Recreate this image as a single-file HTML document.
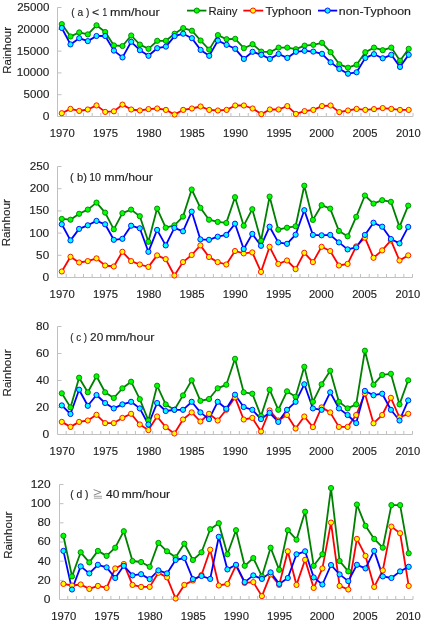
<!DOCTYPE html>
<html><head><meta charset="utf-8"><style>
html,body{margin:0;padding:0;background:#fff;width:423px;height:622px;overflow:hidden}
svg{display:block}
svg text{font-family:"Liberation Sans", sans-serif}
svg{will-change:transform}
</style></head><body>
<svg width="423" height="622" viewBox="0 0 423 622">
<rect width="423" height="622" fill="#fff"/>
<path d="M57.5 7.5 V116.5 H413.0" fill="none" stroke="#c0c0c0" stroke-width="1"/>
<path d="M57.5 94.70h4M57.5 72.90h4M57.5 51.10h4M57.5 29.30h4M57.5 7.50h4M66.17 116.5v-3.5M74.84 116.5v-3.5M83.51 116.5v-3.5M92.18 116.5v-3.5M100.85 116.5v-3.5M109.52 116.5v-3.5M118.20 116.5v-3.5M126.87 116.5v-3.5M135.54 116.5v-3.5M144.21 116.5v-3.5M152.88 116.5v-3.5M161.55 116.5v-3.5M170.22 116.5v-3.5M178.89 116.5v-3.5M187.56 116.5v-3.5M196.23 116.5v-3.5M204.90 116.5v-3.5M213.57 116.5v-3.5M222.24 116.5v-3.5M230.91 116.5v-3.5M239.59 116.5v-3.5M248.26 116.5v-3.5M256.93 116.5v-3.5M265.60 116.5v-3.5M274.27 116.5v-3.5M282.94 116.5v-3.5M291.61 116.5v-3.5M300.28 116.5v-3.5M308.95 116.5v-3.5M317.62 116.5v-3.5M326.29 116.5v-3.5M334.96 116.5v-3.5M343.63 116.5v-3.5M352.30 116.5v-3.5M360.98 116.5v-3.5M369.65 116.5v-3.5M378.32 116.5v-3.5M386.99 116.5v-3.5M395.66 116.5v-3.5M404.33 116.5v-3.5M413.00 116.5v-3.5" fill="none" stroke="#c0c0c0" stroke-width="1"/>
<path d="M61.8 24.1L70.5 36.5L79.2 32.4L87.8 34.4L96.5 25.3L105.2 32.0L113.9 45.4L122.5 46.0L131.2 35.5L139.9 44.6L148.5 48.8L157.2 40.8L165.9 40.8L174.6 33.7L183.2 28.1L191.9 30.7L200.6 40.5L209.2 49.6L217.9 35.1L226.6 39.2L235.2 38.8L243.9 48.2L252.6 44.2L261.3 51.6L269.9 52.2L278.6 47.6L287.3 47.6L295.9 49.2L304.6 45.6L313.3 44.8L322.0 42.8L330.6 52.2L339.3 64.3L348.0 67.7L356.6 64.7L365.3 52.2L374.0 47.6L382.7 50.2L391.3 47.6L400.0 60.7L408.7 48.8" fill="none" stroke="#008000" stroke-width="1.8" stroke-linejoin="round"/>
<path d="M61.8 113.2L70.5 108.9L79.2 110.9L87.8 109.5L96.5 105.4L105.2 111.9L113.9 111.3L122.5 104.6L131.2 109.5L139.9 110.5L148.5 109.1L157.2 108.5L165.9 109.9L174.6 114.5L183.2 109.9L191.9 108.5L200.6 106.5L209.2 109.9L217.9 110.5L226.6 109.9L235.2 105.5L243.9 105.5L252.6 108.5L261.3 114.1L269.9 109.5L278.6 109.5L287.3 106.1L295.9 113.9L304.6 111.1L313.3 109.9L322.0 106.1L330.6 105.5L339.3 112.1L348.0 110.5L356.6 108.9L365.3 109.9L374.0 109.1L382.7 108.1L391.3 108.9L400.0 109.9L408.7 109.9" fill="none" stroke="#ff0000" stroke-width="1.8" stroke-linejoin="round"/>
<path d="M61.8 28.0L70.5 44.4L79.2 38.2L87.8 41.1L96.5 36.0L105.2 36.0L113.9 50.6L122.5 57.4L131.2 41.8L139.9 50.2L148.5 55.8L157.2 48.2L165.9 46.6L174.6 36.1L183.2 33.7L191.9 38.2L200.6 49.9L209.2 55.8L217.9 40.6L226.6 44.8L235.2 48.8L243.9 58.9L252.6 51.8L261.3 54.8L269.9 58.9L278.6 54.0L287.3 57.9L295.9 51.8L304.6 50.8L313.3 51.6L322.0 53.8L330.6 62.3L339.3 68.9L348.0 73.7L356.6 72.3L365.3 57.9L374.0 54.2L382.7 58.3L391.3 54.8L400.0 66.9L408.7 54.8" fill="none" stroke="#0000ff" stroke-width="1.8" stroke-linejoin="round"/>
<g fill="#00ff00" stroke="#008000" stroke-width="0.9"><circle cx="61.8" cy="24.1" r="2.6"/><circle cx="70.5" cy="36.5" r="2.6"/><circle cx="79.2" cy="32.4" r="2.6"/><circle cx="87.8" cy="34.4" r="2.6"/><circle cx="96.5" cy="25.3" r="2.6"/><circle cx="105.2" cy="32.0" r="2.6"/><circle cx="113.9" cy="45.4" r="2.6"/><circle cx="122.5" cy="46.0" r="2.6"/><circle cx="131.2" cy="35.5" r="2.6"/><circle cx="139.9" cy="44.6" r="2.6"/><circle cx="148.5" cy="48.8" r="2.6"/><circle cx="157.2" cy="40.8" r="2.6"/><circle cx="165.9" cy="40.8" r="2.6"/><circle cx="174.6" cy="33.7" r="2.6"/><circle cx="183.2" cy="28.1" r="2.6"/><circle cx="191.9" cy="30.7" r="2.6"/><circle cx="200.6" cy="40.5" r="2.6"/><circle cx="209.2" cy="49.6" r="2.6"/><circle cx="217.9" cy="35.1" r="2.6"/><circle cx="226.6" cy="39.2" r="2.6"/><circle cx="235.2" cy="38.8" r="2.6"/><circle cx="243.9" cy="48.2" r="2.6"/><circle cx="252.6" cy="44.2" r="2.6"/><circle cx="261.3" cy="51.6" r="2.6"/><circle cx="269.9" cy="52.2" r="2.6"/><circle cx="278.6" cy="47.6" r="2.6"/><circle cx="287.3" cy="47.6" r="2.6"/><circle cx="295.9" cy="49.2" r="2.6"/><circle cx="304.6" cy="45.6" r="2.6"/><circle cx="313.3" cy="44.8" r="2.6"/><circle cx="322.0" cy="42.8" r="2.6"/><circle cx="330.6" cy="52.2" r="2.6"/><circle cx="339.3" cy="64.3" r="2.6"/><circle cx="348.0" cy="67.7" r="2.6"/><circle cx="356.6" cy="64.7" r="2.6"/><circle cx="365.3" cy="52.2" r="2.6"/><circle cx="374.0" cy="47.6" r="2.6"/><circle cx="382.7" cy="50.2" r="2.6"/><circle cx="391.3" cy="47.6" r="2.6"/><circle cx="400.0" cy="60.7" r="2.6"/><circle cx="408.7" cy="48.8" r="2.6"/></g>
<g fill="#ffff00" stroke="#ff0000" stroke-width="0.9"><circle cx="61.8" cy="113.2" r="2.6"/><circle cx="70.5" cy="108.9" r="2.6"/><circle cx="79.2" cy="110.9" r="2.6"/><circle cx="87.8" cy="109.5" r="2.6"/><circle cx="96.5" cy="105.4" r="2.6"/><circle cx="105.2" cy="111.9" r="2.6"/><circle cx="113.9" cy="111.3" r="2.6"/><circle cx="122.5" cy="104.6" r="2.6"/><circle cx="131.2" cy="109.5" r="2.6"/><circle cx="139.9" cy="110.5" r="2.6"/><circle cx="148.5" cy="109.1" r="2.6"/><circle cx="157.2" cy="108.5" r="2.6"/><circle cx="165.9" cy="109.9" r="2.6"/><circle cx="174.6" cy="114.5" r="2.6"/><circle cx="183.2" cy="109.9" r="2.6"/><circle cx="191.9" cy="108.5" r="2.6"/><circle cx="200.6" cy="106.5" r="2.6"/><circle cx="209.2" cy="109.9" r="2.6"/><circle cx="217.9" cy="110.5" r="2.6"/><circle cx="226.6" cy="109.9" r="2.6"/><circle cx="235.2" cy="105.5" r="2.6"/><circle cx="243.9" cy="105.5" r="2.6"/><circle cx="252.6" cy="108.5" r="2.6"/><circle cx="261.3" cy="114.1" r="2.6"/><circle cx="269.9" cy="109.5" r="2.6"/><circle cx="278.6" cy="109.5" r="2.6"/><circle cx="287.3" cy="106.1" r="2.6"/><circle cx="295.9" cy="113.9" r="2.6"/><circle cx="304.6" cy="111.1" r="2.6"/><circle cx="313.3" cy="109.9" r="2.6"/><circle cx="322.0" cy="106.1" r="2.6"/><circle cx="330.6" cy="105.5" r="2.6"/><circle cx="339.3" cy="112.1" r="2.6"/><circle cx="348.0" cy="110.5" r="2.6"/><circle cx="356.6" cy="108.9" r="2.6"/><circle cx="365.3" cy="109.9" r="2.6"/><circle cx="374.0" cy="109.1" r="2.6"/><circle cx="382.7" cy="108.1" r="2.6"/><circle cx="391.3" cy="108.9" r="2.6"/><circle cx="400.0" cy="109.9" r="2.6"/><circle cx="408.7" cy="109.9" r="2.6"/></g>
<g fill="#00ffff" stroke="#0000ff" stroke-width="0.9"><circle cx="61.8" cy="28.0" r="2.6"/><circle cx="70.5" cy="44.4" r="2.6"/><circle cx="79.2" cy="38.2" r="2.6"/><circle cx="87.8" cy="41.1" r="2.6"/><circle cx="96.5" cy="36.0" r="2.6"/><circle cx="105.2" cy="36.0" r="2.6"/><circle cx="113.9" cy="50.6" r="2.6"/><circle cx="122.5" cy="57.4" r="2.6"/><circle cx="131.2" cy="41.8" r="2.6"/><circle cx="139.9" cy="50.2" r="2.6"/><circle cx="148.5" cy="55.8" r="2.6"/><circle cx="157.2" cy="48.2" r="2.6"/><circle cx="165.9" cy="46.6" r="2.6"/><circle cx="174.6" cy="36.1" r="2.6"/><circle cx="183.2" cy="33.7" r="2.6"/><circle cx="191.9" cy="38.2" r="2.6"/><circle cx="200.6" cy="49.9" r="2.6"/><circle cx="209.2" cy="55.8" r="2.6"/><circle cx="217.9" cy="40.6" r="2.6"/><circle cx="226.6" cy="44.8" r="2.6"/><circle cx="235.2" cy="48.8" r="2.6"/><circle cx="243.9" cy="58.9" r="2.6"/><circle cx="252.6" cy="51.8" r="2.6"/><circle cx="261.3" cy="54.8" r="2.6"/><circle cx="269.9" cy="58.9" r="2.6"/><circle cx="278.6" cy="54.0" r="2.6"/><circle cx="287.3" cy="57.9" r="2.6"/><circle cx="295.9" cy="51.8" r="2.6"/><circle cx="304.6" cy="50.8" r="2.6"/><circle cx="313.3" cy="51.6" r="2.6"/><circle cx="322.0" cy="53.8" r="2.6"/><circle cx="330.6" cy="62.3" r="2.6"/><circle cx="339.3" cy="68.9" r="2.6"/><circle cx="348.0" cy="73.7" r="2.6"/><circle cx="356.6" cy="72.3" r="2.6"/><circle cx="365.3" cy="57.9" r="2.6"/><circle cx="374.0" cy="54.2" r="2.6"/><circle cx="382.7" cy="58.3" r="2.6"/><circle cx="391.3" cy="54.8" r="2.6"/><circle cx="400.0" cy="66.9" r="2.6"/><circle cx="408.7" cy="54.8" r="2.6"/></g>
<path d="M187 10.6H206.4" stroke="#008000" stroke-width="1.8"/>
<circle cx="196.8" cy="10.6" r="2.6" fill="#00ff00" stroke="#008000" stroke-width="0.9"/>
<path d="M243.3 10.6H263.2" stroke="#ff0000" stroke-width="1.8"/>
<circle cx="253.0" cy="10.6" r="2.6" fill="#ffff00" stroke="#ff0000" stroke-width="0.9"/>
<path d="M318 10.6H337.2" stroke="#0000ff" stroke-width="1.8"/>
<circle cx="327.6" cy="10.6" r="2.6" fill="#00ffff" stroke="#0000ff" stroke-width="0.9"/>
<path d="M57.5 166.5 V277.5 H412.5" fill="none" stroke="#c0c0c0" stroke-width="1"/>
<path d="M57.5 255.30h4M57.5 233.10h4M57.5 210.90h4M57.5 188.70h4M57.5 166.50h4M66.16 277.5v-3.5M74.82 277.5v-3.5M83.48 277.5v-3.5M92.13 277.5v-3.5M100.79 277.5v-3.5M109.45 277.5v-3.5M118.11 277.5v-3.5M126.77 277.5v-3.5M135.43 277.5v-3.5M144.09 277.5v-3.5M152.74 277.5v-3.5M161.40 277.5v-3.5M170.06 277.5v-3.5M178.72 277.5v-3.5M187.38 277.5v-3.5M196.04 277.5v-3.5M204.70 277.5v-3.5M213.35 277.5v-3.5M222.01 277.5v-3.5M230.67 277.5v-3.5M239.33 277.5v-3.5M247.99 277.5v-3.5M256.65 277.5v-3.5M265.30 277.5v-3.5M273.96 277.5v-3.5M282.62 277.5v-3.5M291.28 277.5v-3.5M299.94 277.5v-3.5M308.60 277.5v-3.5M317.26 277.5v-3.5M325.91 277.5v-3.5M334.57 277.5v-3.5M343.23 277.5v-3.5M351.89 277.5v-3.5M360.55 277.5v-3.5M369.21 277.5v-3.5M377.87 277.5v-3.5M386.52 277.5v-3.5M395.18 277.5v-3.5M403.84 277.5v-3.5M412.50 277.5v-3.5" fill="none" stroke="#c0c0c0" stroke-width="1"/>
<path d="M61.8 218.9L70.5 219.7L79.1 213.8L87.8 209.6L96.5 202.6L105.1 212.6L113.8 229.3L122.4 213.2L131.1 209.6L139.8 216.2L148.4 241.8L157.1 208.6L165.7 227.7L174.4 225.3L183.0 216.6L191.7 189.5L200.4 207.8L209.0 219.7L217.7 221.9L226.3 222.9L235.0 197.2L243.7 225.7L252.3 209.2L261.0 240.8L269.6 196.6L278.3 229.7L287.0 227.7L295.6 226.3L304.3 185.7L312.9 219.9L321.6 205.2L330.2 208.6L338.9 230.9L347.6 236.3L356.2 216.8L364.9 195.5L373.5 203.6L382.2 200.2L390.9 201.8L399.5 226.9L408.2 205.6" fill="none" stroke="#008000" stroke-width="1.8" stroke-linejoin="round"/>
<path d="M61.8 271.5L70.5 256.8L79.1 262.5L87.8 261.1L96.5 258.4L105.1 265.5L113.8 266.5L122.4 251.8L131.1 261.1L139.8 264.5L148.4 266.9L157.1 255.4L165.7 259.1L174.4 275.5L183.0 262.1L191.7 255.0L200.4 245.4L209.0 257.0L217.7 262.1L226.3 264.5L235.0 251.0L243.7 253.4L252.3 252.4L261.0 271.9L269.6 246.8L278.3 263.9L287.0 260.5L295.6 269.1L304.3 252.8L312.9 262.1L321.6 246.8L330.2 251.0L338.9 265.5L347.6 263.9L356.2 246.4L364.9 237.7L373.5 257.8L382.2 250.4L390.9 240.4L399.5 260.5L408.2 255.4" fill="none" stroke="#ff0000" stroke-width="1.8" stroke-linejoin="round"/>
<path d="M61.8 224.3L70.5 240.4L79.1 228.9L87.8 225.3L96.5 220.9L105.1 224.3L113.8 239.8L122.4 238.8L131.1 225.7L139.8 228.3L148.4 251.8L157.1 229.9L165.7 245.4L174.4 227.9L183.0 231.3L191.7 211.6L200.4 239.4L209.0 239.8L217.7 236.7L226.3 234.9L235.0 223.7L243.7 249.0L252.3 233.9L261.0 245.8L269.6 226.7L278.3 242.4L287.0 243.8L295.6 234.7L304.3 210.2L312.9 234.9L321.6 235.3L330.2 234.9L338.9 242.4L347.6 249.4L356.2 247.4L364.9 234.9L373.5 222.7L382.2 226.7L390.9 239.0L399.5 243.4L408.2 226.9" fill="none" stroke="#0000ff" stroke-width="1.8" stroke-linejoin="round"/>
<g fill="#00ff00" stroke="#008000" stroke-width="0.9"><circle cx="61.8" cy="218.9" r="2.6"/><circle cx="70.5" cy="219.7" r="2.6"/><circle cx="79.1" cy="213.8" r="2.6"/><circle cx="87.8" cy="209.6" r="2.6"/><circle cx="96.5" cy="202.6" r="2.6"/><circle cx="105.1" cy="212.6" r="2.6"/><circle cx="113.8" cy="229.3" r="2.6"/><circle cx="122.4" cy="213.2" r="2.6"/><circle cx="131.1" cy="209.6" r="2.6"/><circle cx="139.8" cy="216.2" r="2.6"/><circle cx="148.4" cy="241.8" r="2.6"/><circle cx="157.1" cy="208.6" r="2.6"/><circle cx="165.7" cy="227.7" r="2.6"/><circle cx="174.4" cy="225.3" r="2.6"/><circle cx="183.0" cy="216.6" r="2.6"/><circle cx="191.7" cy="189.5" r="2.6"/><circle cx="200.4" cy="207.8" r="2.6"/><circle cx="209.0" cy="219.7" r="2.6"/><circle cx="217.7" cy="221.9" r="2.6"/><circle cx="226.3" cy="222.9" r="2.6"/><circle cx="235.0" cy="197.2" r="2.6"/><circle cx="243.7" cy="225.7" r="2.6"/><circle cx="252.3" cy="209.2" r="2.6"/><circle cx="261.0" cy="240.8" r="2.6"/><circle cx="269.6" cy="196.6" r="2.6"/><circle cx="278.3" cy="229.7" r="2.6"/><circle cx="287.0" cy="227.7" r="2.6"/><circle cx="295.6" cy="226.3" r="2.6"/><circle cx="304.3" cy="185.7" r="2.6"/><circle cx="312.9" cy="219.9" r="2.6"/><circle cx="321.6" cy="205.2" r="2.6"/><circle cx="330.2" cy="208.6" r="2.6"/><circle cx="338.9" cy="230.9" r="2.6"/><circle cx="347.6" cy="236.3" r="2.6"/><circle cx="356.2" cy="216.8" r="2.6"/><circle cx="364.9" cy="195.5" r="2.6"/><circle cx="373.5" cy="203.6" r="2.6"/><circle cx="382.2" cy="200.2" r="2.6"/><circle cx="390.9" cy="201.8" r="2.6"/><circle cx="399.5" cy="226.9" r="2.6"/><circle cx="408.2" cy="205.6" r="2.6"/></g>
<g fill="#ffff00" stroke="#ff0000" stroke-width="0.9"><circle cx="61.8" cy="271.5" r="2.6"/><circle cx="70.5" cy="256.8" r="2.6"/><circle cx="79.1" cy="262.5" r="2.6"/><circle cx="87.8" cy="261.1" r="2.6"/><circle cx="96.5" cy="258.4" r="2.6"/><circle cx="105.1" cy="265.5" r="2.6"/><circle cx="113.8" cy="266.5" r="2.6"/><circle cx="122.4" cy="251.8" r="2.6"/><circle cx="131.1" cy="261.1" r="2.6"/><circle cx="139.8" cy="264.5" r="2.6"/><circle cx="148.4" cy="266.9" r="2.6"/><circle cx="157.1" cy="255.4" r="2.6"/><circle cx="165.7" cy="259.1" r="2.6"/><circle cx="174.4" cy="275.5" r="2.6"/><circle cx="183.0" cy="262.1" r="2.6"/><circle cx="191.7" cy="255.0" r="2.6"/><circle cx="200.4" cy="245.4" r="2.6"/><circle cx="209.0" cy="257.0" r="2.6"/><circle cx="217.7" cy="262.1" r="2.6"/><circle cx="226.3" cy="264.5" r="2.6"/><circle cx="235.0" cy="251.0" r="2.6"/><circle cx="243.7" cy="253.4" r="2.6"/><circle cx="252.3" cy="252.4" r="2.6"/><circle cx="261.0" cy="271.9" r="2.6"/><circle cx="269.6" cy="246.8" r="2.6"/><circle cx="278.3" cy="263.9" r="2.6"/><circle cx="287.0" cy="260.5" r="2.6"/><circle cx="295.6" cy="269.1" r="2.6"/><circle cx="304.3" cy="252.8" r="2.6"/><circle cx="312.9" cy="262.1" r="2.6"/><circle cx="321.6" cy="246.8" r="2.6"/><circle cx="330.2" cy="251.0" r="2.6"/><circle cx="338.9" cy="265.5" r="2.6"/><circle cx="347.6" cy="263.9" r="2.6"/><circle cx="356.2" cy="246.4" r="2.6"/><circle cx="364.9" cy="237.7" r="2.6"/><circle cx="373.5" cy="257.8" r="2.6"/><circle cx="382.2" cy="250.4" r="2.6"/><circle cx="390.9" cy="240.4" r="2.6"/><circle cx="399.5" cy="260.5" r="2.6"/><circle cx="408.2" cy="255.4" r="2.6"/></g>
<g fill="#00ffff" stroke="#0000ff" stroke-width="0.9"><circle cx="61.8" cy="224.3" r="2.6"/><circle cx="70.5" cy="240.4" r="2.6"/><circle cx="79.1" cy="228.9" r="2.6"/><circle cx="87.8" cy="225.3" r="2.6"/><circle cx="96.5" cy="220.9" r="2.6"/><circle cx="105.1" cy="224.3" r="2.6"/><circle cx="113.8" cy="239.8" r="2.6"/><circle cx="122.4" cy="238.8" r="2.6"/><circle cx="131.1" cy="225.7" r="2.6"/><circle cx="139.8" cy="228.3" r="2.6"/><circle cx="148.4" cy="251.8" r="2.6"/><circle cx="157.1" cy="229.9" r="2.6"/><circle cx="165.7" cy="245.4" r="2.6"/><circle cx="174.4" cy="227.9" r="2.6"/><circle cx="183.0" cy="231.3" r="2.6"/><circle cx="191.7" cy="211.6" r="2.6"/><circle cx="200.4" cy="239.4" r="2.6"/><circle cx="209.0" cy="239.8" r="2.6"/><circle cx="217.7" cy="236.7" r="2.6"/><circle cx="226.3" cy="234.9" r="2.6"/><circle cx="235.0" cy="223.7" r="2.6"/><circle cx="243.7" cy="249.0" r="2.6"/><circle cx="252.3" cy="233.9" r="2.6"/><circle cx="261.0" cy="245.8" r="2.6"/><circle cx="269.6" cy="226.7" r="2.6"/><circle cx="278.3" cy="242.4" r="2.6"/><circle cx="287.0" cy="243.8" r="2.6"/><circle cx="295.6" cy="234.7" r="2.6"/><circle cx="304.3" cy="210.2" r="2.6"/><circle cx="312.9" cy="234.9" r="2.6"/><circle cx="321.6" cy="235.3" r="2.6"/><circle cx="330.2" cy="234.9" r="2.6"/><circle cx="338.9" cy="242.4" r="2.6"/><circle cx="347.6" cy="249.4" r="2.6"/><circle cx="356.2" cy="247.4" r="2.6"/><circle cx="364.9" cy="234.9" r="2.6"/><circle cx="373.5" cy="222.7" r="2.6"/><circle cx="382.2" cy="226.7" r="2.6"/><circle cx="390.9" cy="239.0" r="2.6"/><circle cx="399.5" cy="243.4" r="2.6"/><circle cx="408.2" cy="226.9" r="2.6"/></g>
<path d="M57.5 326.5 V434.5 H412.5" fill="none" stroke="#c0c0c0" stroke-width="1"/>
<path d="M57.5 407.50h4M57.5 380.50h4M57.5 353.50h4M57.5 326.50h4M66.16 434.5v-3.5M74.82 434.5v-3.5M83.48 434.5v-3.5M92.13 434.5v-3.5M100.79 434.5v-3.5M109.45 434.5v-3.5M118.11 434.5v-3.5M126.77 434.5v-3.5M135.43 434.5v-3.5M144.09 434.5v-3.5M152.74 434.5v-3.5M161.40 434.5v-3.5M170.06 434.5v-3.5M178.72 434.5v-3.5M187.38 434.5v-3.5M196.04 434.5v-3.5M204.70 434.5v-3.5M213.35 434.5v-3.5M222.01 434.5v-3.5M230.67 434.5v-3.5M239.33 434.5v-3.5M247.99 434.5v-3.5M256.65 434.5v-3.5M265.30 434.5v-3.5M273.96 434.5v-3.5M282.62 434.5v-3.5M291.28 434.5v-3.5M299.94 434.5v-3.5M308.60 434.5v-3.5M317.26 434.5v-3.5M325.91 434.5v-3.5M334.57 434.5v-3.5M343.23 434.5v-3.5M351.89 434.5v-3.5M360.55 434.5v-3.5M369.21 434.5v-3.5M377.87 434.5v-3.5M386.52 434.5v-3.5M395.18 434.5v-3.5M403.84 434.5v-3.5M412.50 434.5v-3.5" fill="none" stroke="#c0c0c0" stroke-width="1"/>
<path d="M61.8 393.3L70.5 407.4L79.1 377.7L87.8 392.3L96.5 376.3L105.1 392.3L113.8 398.0L122.4 388.3L131.1 381.7L139.8 399.2L148.4 420.5L157.1 385.7L165.7 404.4L174.4 409.8L183.0 395.4L191.7 380.3L200.4 400.8L209.0 399.0L217.7 388.3L226.3 384.7L235.0 358.8L243.7 392.3L252.3 393.7L261.0 416.1L269.6 389.7L278.3 409.8L287.0 391.3L295.6 396.8L304.3 366.8L312.9 401.8L321.6 384.3L330.2 370.8L338.9 401.8L347.6 408.4L356.2 404.4L364.9 350.7L373.5 384.7L382.2 374.9L390.9 373.8L399.5 404.4L408.2 380.3" fill="none" stroke="#008000" stroke-width="1.8" stroke-linejoin="round"/>
<path d="M61.8 421.9L70.5 426.9L79.1 421.9L87.8 420.5L96.5 414.8L105.1 423.1L113.8 423.1L122.4 417.9L131.1 413.8L139.8 424.5L148.4 430.1L157.1 416.5L165.7 427.1L174.4 433.5L183.0 419.5L191.7 412.4L200.4 421.5L209.0 413.8L217.7 420.5L226.3 409.8L235.0 397.4L243.7 419.5L252.3 417.9L261.0 431.5L269.6 410.4L278.3 420.5L287.0 415.0L295.6 428.5L304.3 416.5L312.9 427.1L321.6 407.4L330.2 412.4L338.9 426.9L347.6 426.9L356.2 415.0L364.9 393.5L373.5 423.3L382.2 415.0L390.9 397.8L399.5 417.5L408.2 413.8" fill="none" stroke="#ff0000" stroke-width="1.8" stroke-linejoin="round"/>
<path d="M61.8 405.4L70.5 414.0L79.1 389.7L87.8 405.8L96.5 395.0L105.1 403.0L113.8 408.4L122.4 404.4L131.1 401.8L139.8 408.4L148.4 424.5L157.1 403.0L165.7 411.0L174.4 409.8L183.0 409.8L191.7 401.8L200.4 412.4L209.0 419.1L217.7 401.8L226.3 408.8L235.0 394.7L243.7 407.0L252.3 409.8L261.0 419.1L269.6 412.8L278.3 421.9L287.0 409.8L295.6 401.8L304.3 384.3L312.9 408.4L321.6 409.8L330.2 392.3L338.9 408.4L347.6 415.0L356.2 423.1L364.9 390.9L373.5 395.2L382.2 393.7L390.9 409.8L399.5 420.5L408.2 400.4" fill="none" stroke="#0000ff" stroke-width="1.8" stroke-linejoin="round"/>
<g fill="#00ff00" stroke="#008000" stroke-width="0.9"><circle cx="61.8" cy="393.3" r="2.6"/><circle cx="70.5" cy="407.4" r="2.6"/><circle cx="79.1" cy="377.7" r="2.6"/><circle cx="87.8" cy="392.3" r="2.6"/><circle cx="96.5" cy="376.3" r="2.6"/><circle cx="105.1" cy="392.3" r="2.6"/><circle cx="113.8" cy="398.0" r="2.6"/><circle cx="122.4" cy="388.3" r="2.6"/><circle cx="131.1" cy="381.7" r="2.6"/><circle cx="139.8" cy="399.2" r="2.6"/><circle cx="148.4" cy="420.5" r="2.6"/><circle cx="157.1" cy="385.7" r="2.6"/><circle cx="165.7" cy="404.4" r="2.6"/><circle cx="174.4" cy="409.8" r="2.6"/><circle cx="183.0" cy="395.4" r="2.6"/><circle cx="191.7" cy="380.3" r="2.6"/><circle cx="200.4" cy="400.8" r="2.6"/><circle cx="209.0" cy="399.0" r="2.6"/><circle cx="217.7" cy="388.3" r="2.6"/><circle cx="226.3" cy="384.7" r="2.6"/><circle cx="235.0" cy="358.8" r="2.6"/><circle cx="243.7" cy="392.3" r="2.6"/><circle cx="252.3" cy="393.7" r="2.6"/><circle cx="261.0" cy="416.1" r="2.6"/><circle cx="269.6" cy="389.7" r="2.6"/><circle cx="278.3" cy="409.8" r="2.6"/><circle cx="287.0" cy="391.3" r="2.6"/><circle cx="295.6" cy="396.8" r="2.6"/><circle cx="304.3" cy="366.8" r="2.6"/><circle cx="312.9" cy="401.8" r="2.6"/><circle cx="321.6" cy="384.3" r="2.6"/><circle cx="330.2" cy="370.8" r="2.6"/><circle cx="338.9" cy="401.8" r="2.6"/><circle cx="347.6" cy="408.4" r="2.6"/><circle cx="356.2" cy="404.4" r="2.6"/><circle cx="364.9" cy="350.7" r="2.6"/><circle cx="373.5" cy="384.7" r="2.6"/><circle cx="382.2" cy="374.9" r="2.6"/><circle cx="390.9" cy="373.8" r="2.6"/><circle cx="399.5" cy="404.4" r="2.6"/><circle cx="408.2" cy="380.3" r="2.6"/></g>
<g fill="#ffff00" stroke="#ff0000" stroke-width="0.9"><circle cx="61.8" cy="421.9" r="2.6"/><circle cx="70.5" cy="426.9" r="2.6"/><circle cx="79.1" cy="421.9" r="2.6"/><circle cx="87.8" cy="420.5" r="2.6"/><circle cx="96.5" cy="414.8" r="2.6"/><circle cx="105.1" cy="423.1" r="2.6"/><circle cx="113.8" cy="423.1" r="2.6"/><circle cx="122.4" cy="417.9" r="2.6"/><circle cx="131.1" cy="413.8" r="2.6"/><circle cx="139.8" cy="424.5" r="2.6"/><circle cx="148.4" cy="430.1" r="2.6"/><circle cx="157.1" cy="416.5" r="2.6"/><circle cx="165.7" cy="427.1" r="2.6"/><circle cx="174.4" cy="433.5" r="2.6"/><circle cx="183.0" cy="419.5" r="2.6"/><circle cx="191.7" cy="412.4" r="2.6"/><circle cx="200.4" cy="421.5" r="2.6"/><circle cx="209.0" cy="413.8" r="2.6"/><circle cx="217.7" cy="420.5" r="2.6"/><circle cx="226.3" cy="409.8" r="2.6"/><circle cx="235.0" cy="397.4" r="2.6"/><circle cx="243.7" cy="419.5" r="2.6"/><circle cx="252.3" cy="417.9" r="2.6"/><circle cx="261.0" cy="431.5" r="2.6"/><circle cx="269.6" cy="410.4" r="2.6"/><circle cx="278.3" cy="420.5" r="2.6"/><circle cx="287.0" cy="415.0" r="2.6"/><circle cx="295.6" cy="428.5" r="2.6"/><circle cx="304.3" cy="416.5" r="2.6"/><circle cx="312.9" cy="427.1" r="2.6"/><circle cx="321.6" cy="407.4" r="2.6"/><circle cx="330.2" cy="412.4" r="2.6"/><circle cx="338.9" cy="426.9" r="2.6"/><circle cx="347.6" cy="426.9" r="2.6"/><circle cx="356.2" cy="415.0" r="2.6"/><circle cx="364.9" cy="393.5" r="2.6"/><circle cx="373.5" cy="423.3" r="2.6"/><circle cx="382.2" cy="415.0" r="2.6"/><circle cx="390.9" cy="397.8" r="2.6"/><circle cx="399.5" cy="417.5" r="2.6"/><circle cx="408.2" cy="413.8" r="2.6"/></g>
<g fill="#00ffff" stroke="#0000ff" stroke-width="0.9"><circle cx="61.8" cy="405.4" r="2.6"/><circle cx="70.5" cy="414.0" r="2.6"/><circle cx="79.1" cy="389.7" r="2.6"/><circle cx="87.8" cy="405.8" r="2.6"/><circle cx="96.5" cy="395.0" r="2.6"/><circle cx="105.1" cy="403.0" r="2.6"/><circle cx="113.8" cy="408.4" r="2.6"/><circle cx="122.4" cy="404.4" r="2.6"/><circle cx="131.1" cy="401.8" r="2.6"/><circle cx="139.8" cy="408.4" r="2.6"/><circle cx="148.4" cy="424.5" r="2.6"/><circle cx="157.1" cy="403.0" r="2.6"/><circle cx="165.7" cy="411.0" r="2.6"/><circle cx="174.4" cy="409.8" r="2.6"/><circle cx="183.0" cy="409.8" r="2.6"/><circle cx="191.7" cy="401.8" r="2.6"/><circle cx="200.4" cy="412.4" r="2.6"/><circle cx="209.0" cy="419.1" r="2.6"/><circle cx="217.7" cy="401.8" r="2.6"/><circle cx="226.3" cy="408.8" r="2.6"/><circle cx="235.0" cy="394.7" r="2.6"/><circle cx="243.7" cy="407.0" r="2.6"/><circle cx="252.3" cy="409.8" r="2.6"/><circle cx="261.0" cy="419.1" r="2.6"/><circle cx="269.6" cy="412.8" r="2.6"/><circle cx="278.3" cy="421.9" r="2.6"/><circle cx="287.0" cy="409.8" r="2.6"/><circle cx="295.6" cy="401.8" r="2.6"/><circle cx="304.3" cy="384.3" r="2.6"/><circle cx="312.9" cy="408.4" r="2.6"/><circle cx="321.6" cy="409.8" r="2.6"/><circle cx="330.2" cy="392.3" r="2.6"/><circle cx="338.9" cy="408.4" r="2.6"/><circle cx="347.6" cy="415.0" r="2.6"/><circle cx="356.2" cy="423.1" r="2.6"/><circle cx="364.9" cy="390.9" r="2.6"/><circle cx="373.5" cy="395.2" r="2.6"/><circle cx="382.2" cy="393.7" r="2.6"/><circle cx="390.9" cy="409.8" r="2.6"/><circle cx="399.5" cy="420.5" r="2.6"/><circle cx="408.2" cy="400.4" r="2.6"/></g>
<path d="M59.5 484.5 V599.5 H413.0" fill="none" stroke="#c0c0c0" stroke-width="1"/>
<path d="M59.5 580.33h4M59.5 561.17h4M59.5 542.00h4M59.5 522.83h4M59.5 503.67h4M59.5 484.50h4M67.73 599.5v-3.5M76.36 599.5v-3.5M85.00 599.5v-3.5M93.63 599.5v-3.5M102.26 599.5v-3.5M110.89 599.5v-3.5M119.52 599.5v-3.5M128.15 599.5v-3.5M136.79 599.5v-3.5M145.42 599.5v-3.5M154.05 599.5v-3.5M162.68 599.5v-3.5M171.31 599.5v-3.5M179.94 599.5v-3.5M188.58 599.5v-3.5M197.21 599.5v-3.5M205.84 599.5v-3.5M214.47 599.5v-3.5M223.10 599.5v-3.5M231.73 599.5v-3.5M240.37 599.5v-3.5M249.00 599.5v-3.5M257.63 599.5v-3.5M266.26 599.5v-3.5M274.89 599.5v-3.5M283.52 599.5v-3.5M292.16 599.5v-3.5M300.79 599.5v-3.5M309.42 599.5v-3.5M318.05 599.5v-3.5M326.68 599.5v-3.5M335.31 599.5v-3.5M343.95 599.5v-3.5M352.58 599.5v-3.5M361.21 599.5v-3.5M369.84 599.5v-3.5M378.47 599.5v-3.5M387.10 599.5v-3.5M395.74 599.5v-3.5M404.37 599.5v-3.5M413.00 599.5v-3.5" fill="none" stroke="#c0c0c0" stroke-width="1"/>
<path d="M63.4 535.8L72.0 576.4L80.7 552.3L89.3 562.4L97.9 550.9L106.6 555.9L115.2 547.7L123.8 531.2L132.5 561.0L141.1 562.0L149.7 566.8L158.4 542.9L167.0 551.3L175.6 557.3L184.3 543.7L192.9 560.0L201.5 552.3L210.2 529.2L218.8 523.2L227.4 554.3L236.0 530.2L244.7 565.8L253.3 558.0L261.9 576.4L270.6 547.7L279.2 569.8L287.8 530.2L296.5 539.7L305.1 511.7L313.7 565.8L322.4 554.3L331.0 488.0L339.6 561.0L348.3 571.4L356.9 504.5L365.5 525.8L374.2 538.9L382.8 547.7L391.4 505.1L400.1 505.1L408.7 553.3" fill="none" stroke="#008000" stroke-width="1.8" stroke-linejoin="round"/>
<path d="M63.4 583.9L72.0 585.5L80.7 584.5L89.3 588.9L97.9 585.9L106.6 587.9L115.2 568.4L123.8 564.0L132.5 584.9L141.1 586.9L149.7 586.9L158.4 572.8L167.0 577.4L175.6 598.5L184.3 584.9L192.9 580.5L201.5 575.0L210.2 549.7L218.8 585.5L227.4 583.9L236.0 565.4L244.7 582.9L253.3 582.1L261.9 596.1L270.6 574.4L279.2 584.9L287.8 551.3L296.5 584.9L305.1 559.8L313.7 587.9L322.4 568.4L331.0 522.6L339.6 585.9L348.3 589.5L356.9 538.9L365.5 555.9L374.2 586.9L382.8 570.4L391.4 526.6L400.1 533.2L408.7 585.9" fill="none" stroke="#ff0000" stroke-width="1.8" stroke-linejoin="round"/>
<path d="M63.4 550.9L72.0 589.5L80.7 566.4L89.3 573.4L97.9 564.8L106.6 567.4L115.2 578.0L123.8 565.8L132.5 575.4L141.1 574.2L149.7 579.1L158.4 570.4L167.0 573.4L175.6 560.0L184.3 558.0L192.9 579.1L201.5 576.0L210.2 578.9L218.8 536.8L227.4 569.4L236.0 564.8L244.7 582.1L253.3 575.4L261.9 578.9L270.6 572.4L279.2 583.9L287.8 578.0L296.5 554.3L305.1 551.3L313.7 577.4L322.4 584.5L331.0 565.0L339.6 574.4L348.3 581.1L356.9 564.8L365.5 568.4L374.2 550.9L382.8 576.4L391.4 578.0L400.1 571.4L408.7 566.8" fill="none" stroke="#0000ff" stroke-width="1.8" stroke-linejoin="round"/>
<g fill="#00ff00" stroke="#008000" stroke-width="0.9"><circle cx="63.4" cy="535.8" r="2.6"/><circle cx="72.0" cy="576.4" r="2.6"/><circle cx="80.7" cy="552.3" r="2.6"/><circle cx="89.3" cy="562.4" r="2.6"/><circle cx="97.9" cy="550.9" r="2.6"/><circle cx="106.6" cy="555.9" r="2.6"/><circle cx="115.2" cy="547.7" r="2.6"/><circle cx="123.8" cy="531.2" r="2.6"/><circle cx="132.5" cy="561.0" r="2.6"/><circle cx="141.1" cy="562.0" r="2.6"/><circle cx="149.7" cy="566.8" r="2.6"/><circle cx="158.4" cy="542.9" r="2.6"/><circle cx="167.0" cy="551.3" r="2.6"/><circle cx="175.6" cy="557.3" r="2.6"/><circle cx="184.3" cy="543.7" r="2.6"/><circle cx="192.9" cy="560.0" r="2.6"/><circle cx="201.5" cy="552.3" r="2.6"/><circle cx="210.2" cy="529.2" r="2.6"/><circle cx="218.8" cy="523.2" r="2.6"/><circle cx="227.4" cy="554.3" r="2.6"/><circle cx="236.0" cy="530.2" r="2.6"/><circle cx="244.7" cy="565.8" r="2.6"/><circle cx="253.3" cy="558.0" r="2.6"/><circle cx="261.9" cy="576.4" r="2.6"/><circle cx="270.6" cy="547.7" r="2.6"/><circle cx="279.2" cy="569.8" r="2.6"/><circle cx="287.8" cy="530.2" r="2.6"/><circle cx="296.5" cy="539.7" r="2.6"/><circle cx="305.1" cy="511.7" r="2.6"/><circle cx="313.7" cy="565.8" r="2.6"/><circle cx="322.4" cy="554.3" r="2.6"/><circle cx="331.0" cy="488.0" r="2.6"/><circle cx="339.6" cy="561.0" r="2.6"/><circle cx="348.3" cy="571.4" r="2.6"/><circle cx="356.9" cy="504.5" r="2.6"/><circle cx="365.5" cy="525.8" r="2.6"/><circle cx="374.2" cy="538.9" r="2.6"/><circle cx="382.8" cy="547.7" r="2.6"/><circle cx="391.4" cy="505.1" r="2.6"/><circle cx="400.1" cy="505.1" r="2.6"/><circle cx="408.7" cy="553.3" r="2.6"/></g>
<g fill="#ffff00" stroke="#ff0000" stroke-width="0.9"><circle cx="63.4" cy="583.9" r="2.6"/><circle cx="72.0" cy="585.5" r="2.6"/><circle cx="80.7" cy="584.5" r="2.6"/><circle cx="89.3" cy="588.9" r="2.6"/><circle cx="97.9" cy="585.9" r="2.6"/><circle cx="106.6" cy="587.9" r="2.6"/><circle cx="115.2" cy="568.4" r="2.6"/><circle cx="123.8" cy="564.0" r="2.6"/><circle cx="132.5" cy="584.9" r="2.6"/><circle cx="141.1" cy="586.9" r="2.6"/><circle cx="149.7" cy="586.9" r="2.6"/><circle cx="158.4" cy="572.8" r="2.6"/><circle cx="167.0" cy="577.4" r="2.6"/><circle cx="175.6" cy="598.5" r="2.6"/><circle cx="184.3" cy="584.9" r="2.6"/><circle cx="192.9" cy="580.5" r="2.6"/><circle cx="201.5" cy="575.0" r="2.6"/><circle cx="210.2" cy="549.7" r="2.6"/><circle cx="218.8" cy="585.5" r="2.6"/><circle cx="227.4" cy="583.9" r="2.6"/><circle cx="236.0" cy="565.4" r="2.6"/><circle cx="244.7" cy="582.9" r="2.6"/><circle cx="253.3" cy="582.1" r="2.6"/><circle cx="261.9" cy="596.1" r="2.6"/><circle cx="270.6" cy="574.4" r="2.6"/><circle cx="279.2" cy="584.9" r="2.6"/><circle cx="287.8" cy="551.3" r="2.6"/><circle cx="296.5" cy="584.9" r="2.6"/><circle cx="305.1" cy="559.8" r="2.6"/><circle cx="313.7" cy="587.9" r="2.6"/><circle cx="322.4" cy="568.4" r="2.6"/><circle cx="331.0" cy="522.6" r="2.6"/><circle cx="339.6" cy="585.9" r="2.6"/><circle cx="348.3" cy="589.5" r="2.6"/><circle cx="356.9" cy="538.9" r="2.6"/><circle cx="365.5" cy="555.9" r="2.6"/><circle cx="374.2" cy="586.9" r="2.6"/><circle cx="382.8" cy="570.4" r="2.6"/><circle cx="391.4" cy="526.6" r="2.6"/><circle cx="400.1" cy="533.2" r="2.6"/><circle cx="408.7" cy="585.9" r="2.6"/></g>
<g fill="#00ffff" stroke="#0000ff" stroke-width="0.9"><circle cx="63.4" cy="550.9" r="2.6"/><circle cx="72.0" cy="589.5" r="2.6"/><circle cx="80.7" cy="566.4" r="2.6"/><circle cx="89.3" cy="573.4" r="2.6"/><circle cx="97.9" cy="564.8" r="2.6"/><circle cx="106.6" cy="567.4" r="2.6"/><circle cx="115.2" cy="578.0" r="2.6"/><circle cx="123.8" cy="565.8" r="2.6"/><circle cx="132.5" cy="575.4" r="2.6"/><circle cx="141.1" cy="574.2" r="2.6"/><circle cx="149.7" cy="579.1" r="2.6"/><circle cx="158.4" cy="570.4" r="2.6"/><circle cx="167.0" cy="573.4" r="2.6"/><circle cx="175.6" cy="560.0" r="2.6"/><circle cx="184.3" cy="558.0" r="2.6"/><circle cx="192.9" cy="579.1" r="2.6"/><circle cx="201.5" cy="576.0" r="2.6"/><circle cx="210.2" cy="578.9" r="2.6"/><circle cx="218.8" cy="536.8" r="2.6"/><circle cx="227.4" cy="569.4" r="2.6"/><circle cx="236.0" cy="564.8" r="2.6"/><circle cx="244.7" cy="582.1" r="2.6"/><circle cx="253.3" cy="575.4" r="2.6"/><circle cx="261.9" cy="578.9" r="2.6"/><circle cx="270.6" cy="572.4" r="2.6"/><circle cx="279.2" cy="583.9" r="2.6"/><circle cx="287.8" cy="578.0" r="2.6"/><circle cx="296.5" cy="554.3" r="2.6"/><circle cx="305.1" cy="551.3" r="2.6"/><circle cx="313.7" cy="577.4" r="2.6"/><circle cx="322.4" cy="584.5" r="2.6"/><circle cx="331.0" cy="565.0" r="2.6"/><circle cx="339.6" cy="574.4" r="2.6"/><circle cx="348.3" cy="581.1" r="2.6"/><circle cx="356.9" cy="564.8" r="2.6"/><circle cx="365.5" cy="568.4" r="2.6"/><circle cx="374.2" cy="550.9" r="2.6"/><circle cx="382.8" cy="576.4" r="2.6"/><circle cx="391.4" cy="578.0" r="2.6"/><circle cx="400.1" cy="571.4" r="2.6"/><circle cx="408.7" cy="566.8" r="2.6"/></g>
<path d="M93.6 489.6L101 492.3L93.8 495.1" fill="none" stroke="#777" stroke-width="0.9"/>
<path d="M93.9 496.3H102M93.9 498.2H102" fill="none" stroke="#999" stroke-width="0.9"/>
<g stroke="#1e1e1e" stroke-width="0.15" font-size="11.5" font-family="&quot;Liberation Sans&quot;, sans-serif">
<text x="71.27" y="15.50" textLength="18.06" lengthAdjust="spacingAndGlyphs" fill="#1e1e1e" xml:space="preserve">( a )</text>
<text x="92.00" y="15.50" textLength="7.09" lengthAdjust="spacingAndGlyphs" fill="#1e1e1e" xml:space="preserve">&lt;</text>
<text x="102.57" y="15.50" textLength="4.64" lengthAdjust="spacingAndGlyphs" fill="#1e1e1e" xml:space="preserve">1</text>
<text x="110.06" y="15.50" textLength="49.64" lengthAdjust="spacingAndGlyphs" fill="#1e1e1e" xml:space="preserve">mm/hour</text>
<text x="70.11" y="181.20" textLength="16.79" lengthAdjust="spacingAndGlyphs" fill="#1e1e1e" xml:space="preserve">( b)</text>
<text x="89.19" y="181.20" textLength="11.82" lengthAdjust="spacingAndGlyphs" fill="#1e1e1e" xml:space="preserve">10</text>
<text x="104.39" y="181.20" textLength="48.42" lengthAdjust="spacingAndGlyphs" fill="#1e1e1e" xml:space="preserve">mm/hour</text>
<text x="70.19" y="340.80" textLength="16.81" lengthAdjust="spacingAndGlyphs" fill="#1e1e1e" xml:space="preserve">( c )</text>
<text x="90.11" y="340.80" textLength="13.16" lengthAdjust="spacingAndGlyphs" fill="#1e1e1e" xml:space="preserve">20</text>
<text x="105.47" y="340.80" textLength="49.03" lengthAdjust="spacingAndGlyphs" fill="#1e1e1e" xml:space="preserve">mm/hour</text>
<text x="70.16" y="497.50" textLength="18.38" lengthAdjust="spacingAndGlyphs" fill="#1e1e1e" xml:space="preserve">( d )</text>
<text x="106.12" y="497.50" textLength="13.34" lengthAdjust="spacingAndGlyphs" fill="#1e1e1e" xml:space="preserve">40</text>
<text x="121.48" y="497.50" textLength="48.62" lengthAdjust="spacingAndGlyphs" fill="#1e1e1e" xml:space="preserve">mm/hour</text>
<text x="208.47" y="14.80" textLength="28.85" lengthAdjust="spacingAndGlyphs" fill="#1e1e1e" xml:space="preserve">Rainy</text>
<text x="265.43" y="14.80" textLength="46.15" lengthAdjust="spacingAndGlyphs" fill="#1e1e1e" xml:space="preserve">Typhoon</text>
<text x="338.88" y="14.80" textLength="72.12" lengthAdjust="spacingAndGlyphs" fill="#1e1e1e" xml:space="preserve">non-Typhoon</text>
<text x="42.68" y="119.90" textLength="6.69" lengthAdjust="spacingAndGlyphs" fill="#1e1e1e" xml:space="preserve">0</text>
<text x="23.64" y="98.10" textLength="25.71" lengthAdjust="spacingAndGlyphs" fill="#1e1e1e" xml:space="preserve">5000</text>
<text x="16.86" y="76.30" textLength="32.50" lengthAdjust="spacingAndGlyphs" fill="#1e1e1e" xml:space="preserve">10000</text>
<text x="16.86" y="54.50" textLength="32.50" lengthAdjust="spacingAndGlyphs" fill="#1e1e1e" xml:space="preserve">15000</text>
<text x="17.17" y="32.70" textLength="32.18" lengthAdjust="spacingAndGlyphs" fill="#1e1e1e" xml:space="preserve">20000</text>
<text x="17.17" y="10.90" textLength="32.18" lengthAdjust="spacingAndGlyphs" fill="#1e1e1e" xml:space="preserve">25000</text>
<text x="49.63" y="137.00" textLength="25.10" lengthAdjust="spacingAndGlyphs" fill="#1e1e1e" xml:space="preserve">1970</text>
<text x="92.98" y="137.00" textLength="25.13" lengthAdjust="spacingAndGlyphs" fill="#1e1e1e" xml:space="preserve">1975</text>
<text x="136.33" y="137.00" textLength="25.10" lengthAdjust="spacingAndGlyphs" fill="#1e1e1e" xml:space="preserve">1980</text>
<text x="179.69" y="137.00" textLength="25.13" lengthAdjust="spacingAndGlyphs" fill="#1e1e1e" xml:space="preserve">1985</text>
<text x="223.04" y="137.00" textLength="25.10" lengthAdjust="spacingAndGlyphs" fill="#1e1e1e" xml:space="preserve">1990</text>
<text x="266.39" y="137.00" textLength="25.13" lengthAdjust="spacingAndGlyphs" fill="#1e1e1e" xml:space="preserve">1995</text>
<text x="309.25" y="137.00" textLength="24.80" lengthAdjust="spacingAndGlyphs" fill="#1e1e1e" xml:space="preserve">2000</text>
<text x="352.60" y="137.00" textLength="24.83" lengthAdjust="spacingAndGlyphs" fill="#1e1e1e" xml:space="preserve">2005</text>
<text x="395.95" y="137.00" textLength="24.80" lengthAdjust="spacingAndGlyphs" fill="#1e1e1e" xml:space="preserve">2010</text>
<text transform="translate(11.10,73.75) rotate(-90)" x="0" y="0" textLength="46.84" lengthAdjust="spacingAndGlyphs" fill="#1e1e1e">Rainhour</text>
<text x="42.48" y="280.90" textLength="6.69" lengthAdjust="spacingAndGlyphs" fill="#1e1e1e" xml:space="preserve">0</text>
<text x="36.13" y="258.70" textLength="13.03" lengthAdjust="spacingAndGlyphs" fill="#1e1e1e" xml:space="preserve">50</text>
<text x="29.35" y="236.50" textLength="19.82" lengthAdjust="spacingAndGlyphs" fill="#1e1e1e" xml:space="preserve">100</text>
<text x="29.35" y="214.30" textLength="19.82" lengthAdjust="spacingAndGlyphs" fill="#1e1e1e" xml:space="preserve">150</text>
<text x="29.66" y="192.10" textLength="19.49" lengthAdjust="spacingAndGlyphs" fill="#1e1e1e" xml:space="preserve">200</text>
<text x="29.66" y="169.90" textLength="19.49" lengthAdjust="spacingAndGlyphs" fill="#1e1e1e" xml:space="preserve">250</text>
<text x="49.62" y="297.90" textLength="25.10" lengthAdjust="spacingAndGlyphs" fill="#1e1e1e" xml:space="preserve">1970</text>
<text x="92.91" y="297.90" textLength="25.13" lengthAdjust="spacingAndGlyphs" fill="#1e1e1e" xml:space="preserve">1975</text>
<text x="136.21" y="297.90" textLength="25.10" lengthAdjust="spacingAndGlyphs" fill="#1e1e1e" xml:space="preserve">1980</text>
<text x="179.50" y="297.90" textLength="25.13" lengthAdjust="spacingAndGlyphs" fill="#1e1e1e" xml:space="preserve">1985</text>
<text x="222.79" y="297.90" textLength="25.10" lengthAdjust="spacingAndGlyphs" fill="#1e1e1e" xml:space="preserve">1990</text>
<text x="266.08" y="297.90" textLength="25.13" lengthAdjust="spacingAndGlyphs" fill="#1e1e1e" xml:space="preserve">1995</text>
<text x="308.88" y="297.90" textLength="24.80" lengthAdjust="spacingAndGlyphs" fill="#1e1e1e" xml:space="preserve">2000</text>
<text x="352.17" y="297.90" textLength="24.83" lengthAdjust="spacingAndGlyphs" fill="#1e1e1e" xml:space="preserve">2005</text>
<text x="395.46" y="297.90" textLength="24.80" lengthAdjust="spacingAndGlyphs" fill="#1e1e1e" xml:space="preserve">2010</text>
<text transform="translate(10.20,246.36) rotate(-90)" x="0" y="0" textLength="47.25" lengthAdjust="spacingAndGlyphs" fill="#1e1e1e">Rainhour</text>
<text x="42.48" y="437.90" textLength="6.69" lengthAdjust="spacingAndGlyphs" fill="#1e1e1e" xml:space="preserve">0</text>
<text x="36.01" y="410.90" textLength="13.16" lengthAdjust="spacingAndGlyphs" fill="#1e1e1e" xml:space="preserve">20</text>
<text x="36.34" y="383.90" textLength="12.81" lengthAdjust="spacingAndGlyphs" fill="#1e1e1e" xml:space="preserve">40</text>
<text x="36.00" y="356.90" textLength="13.16" lengthAdjust="spacingAndGlyphs" fill="#1e1e1e" xml:space="preserve">60</text>
<text x="36.09" y="329.90" textLength="13.07" lengthAdjust="spacingAndGlyphs" fill="#1e1e1e" xml:space="preserve">80</text>
<text x="49.62" y="454.90" textLength="25.10" lengthAdjust="spacingAndGlyphs" fill="#1e1e1e" xml:space="preserve">1970</text>
<text x="92.91" y="454.90" textLength="25.13" lengthAdjust="spacingAndGlyphs" fill="#1e1e1e" xml:space="preserve">1975</text>
<text x="136.21" y="454.90" textLength="25.10" lengthAdjust="spacingAndGlyphs" fill="#1e1e1e" xml:space="preserve">1980</text>
<text x="179.50" y="454.90" textLength="25.13" lengthAdjust="spacingAndGlyphs" fill="#1e1e1e" xml:space="preserve">1985</text>
<text x="222.79" y="454.90" textLength="25.10" lengthAdjust="spacingAndGlyphs" fill="#1e1e1e" xml:space="preserve">1990</text>
<text x="266.08" y="454.90" textLength="25.13" lengthAdjust="spacingAndGlyphs" fill="#1e1e1e" xml:space="preserve">1995</text>
<text x="308.88" y="454.90" textLength="24.80" lengthAdjust="spacingAndGlyphs" fill="#1e1e1e" xml:space="preserve">2000</text>
<text x="352.17" y="454.90" textLength="24.83" lengthAdjust="spacingAndGlyphs" fill="#1e1e1e" xml:space="preserve">2005</text>
<text x="395.46" y="454.90" textLength="24.80" lengthAdjust="spacingAndGlyphs" fill="#1e1e1e" xml:space="preserve">2010</text>
<text transform="translate(11.10,396.45) rotate(-90)" x="0" y="0" textLength="47.04" lengthAdjust="spacingAndGlyphs" fill="#1e1e1e">Rainhour</text>
<text x="43.88" y="602.90" textLength="6.69" lengthAdjust="spacingAndGlyphs" fill="#1e1e1e" xml:space="preserve">0</text>
<text x="37.41" y="583.73" textLength="13.16" lengthAdjust="spacingAndGlyphs" fill="#1e1e1e" xml:space="preserve">20</text>
<text x="37.74" y="564.57" textLength="12.81" lengthAdjust="spacingAndGlyphs" fill="#1e1e1e" xml:space="preserve">40</text>
<text x="37.40" y="545.40" textLength="13.16" lengthAdjust="spacingAndGlyphs" fill="#1e1e1e" xml:space="preserve">60</text>
<text x="37.49" y="526.23" textLength="13.07" lengthAdjust="spacingAndGlyphs" fill="#1e1e1e" xml:space="preserve">80</text>
<text x="30.75" y="507.07" textLength="19.82" lengthAdjust="spacingAndGlyphs" fill="#1e1e1e" xml:space="preserve">100</text>
<text x="30.75" y="487.90" textLength="19.82" lengthAdjust="spacingAndGlyphs" fill="#1e1e1e" xml:space="preserve">120</text>
<text x="51.21" y="620.10" textLength="25.10" lengthAdjust="spacingAndGlyphs" fill="#1e1e1e" xml:space="preserve">1970</text>
<text x="94.36" y="620.10" textLength="25.13" lengthAdjust="spacingAndGlyphs" fill="#1e1e1e" xml:space="preserve">1975</text>
<text x="137.52" y="620.10" textLength="25.10" lengthAdjust="spacingAndGlyphs" fill="#1e1e1e" xml:space="preserve">1980</text>
<text x="180.68" y="620.10" textLength="25.13" lengthAdjust="spacingAndGlyphs" fill="#1e1e1e" xml:space="preserve">1985</text>
<text x="223.84" y="620.10" textLength="25.10" lengthAdjust="spacingAndGlyphs" fill="#1e1e1e" xml:space="preserve">1990</text>
<text x="267.00" y="620.10" textLength="25.13" lengthAdjust="spacingAndGlyphs" fill="#1e1e1e" xml:space="preserve">1995</text>
<text x="309.66" y="620.10" textLength="24.80" lengthAdjust="spacingAndGlyphs" fill="#1e1e1e" xml:space="preserve">2000</text>
<text x="352.81" y="620.10" textLength="24.83" lengthAdjust="spacingAndGlyphs" fill="#1e1e1e" xml:space="preserve">2005</text>
<text x="395.97" y="620.10" textLength="24.80" lengthAdjust="spacingAndGlyphs" fill="#1e1e1e" xml:space="preserve">2010</text>
<text transform="translate(11.80,558.86) rotate(-90)" x="0" y="0" textLength="47.25" lengthAdjust="spacingAndGlyphs" fill="#1e1e1e">Rainhour</text>
</g>
</svg>
</body></html>
